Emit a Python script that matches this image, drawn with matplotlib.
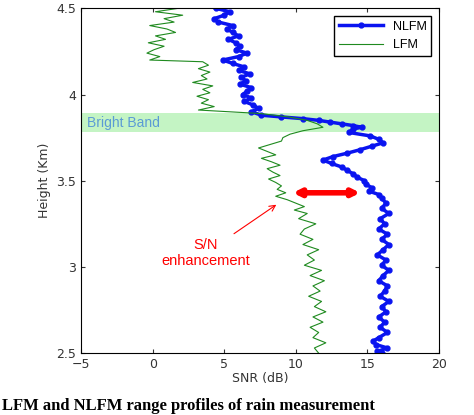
import matplotlib.pyplot as plt

# NLFM profile (height km, SNR dB)
nlfm_h = [4.50, 4.48, 4.46, 4.44, 4.42, 4.40, 4.38, 4.36, 4.34, 4.32, 4.30, 4.28, 4.26, 4.24,
          4.22, 4.20, 4.18, 4.16, 4.14, 4.12, 4.10, 4.08, 4.06, 4.04, 4.02, 4.00, 3.98, 3.96,
          3.94, 3.92, 3.90, 3.88, 3.87, 3.86, 3.85, 3.84, 3.83, 3.82, 3.81, 3.80, 3.78, 3.76,
          3.74, 3.72, 3.70, 3.68, 3.66, 3.64, 3.62, 3.60, 3.58, 3.56, 3.54, 3.52, 3.50, 3.48,
          3.46, 3.44, 3.42, 3.40, 3.37, 3.34, 3.31, 3.28, 3.25, 3.22, 3.19, 3.16, 3.13, 3.10,
          3.07, 3.04, 3.01, 2.98, 2.95, 2.92, 2.89, 2.86, 2.83, 2.80, 2.77, 2.74, 2.71, 2.68,
          2.65, 2.62, 2.59, 2.57, 2.55, 2.53, 2.51, 2.50]
nlfm_snr = [4.4, 5.4, 5.0, 4.3, 4.6, 5.6, 5.2, 5.6, 6.0, 5.3, 5.8, 6.1, 5.8, 6.6, 6.0, 4.9, 5.6,
            6.4, 6.0, 6.8, 6.2, 6.5, 6.1, 6.9, 6.6, 6.3, 6.9, 6.4, 7.0, 7.4, 6.9, 7.6, 9.0, 10.5,
            11.6, 12.4, 13.2, 14.0, 14.6, 14.0, 13.7, 15.2, 15.8, 16.1, 15.3, 14.5, 13.6, 12.6,
            11.9, 12.5, 13.2, 13.6, 14.0, 14.3, 14.8, 14.9, 15.3, 15.1, 15.8, 16.0, 16.3, 16.0,
            16.5, 15.9, 16.2, 15.8, 16.4, 16.0, 16.5, 16.1, 15.7, 16.3, 16.0, 16.5, 16.1, 15.8,
            16.4, 16.2, 15.9, 16.5, 16.0, 16.3, 15.8, 16.2, 15.9, 16.4, 15.8, 15.4, 15.6, 16.4,
            15.7, 16.0]

# LFM profile
lfm_h = [4.50, 4.48, 4.46, 4.44, 4.42, 4.40, 4.38, 4.36, 4.34, 4.32, 4.30, 4.28, 4.26, 4.24,
         4.22, 4.20, 4.19, 4.17, 4.15, 4.13, 4.11, 4.09, 4.07, 4.05, 4.03, 4.01, 3.99, 3.97,
         3.95, 3.93, 3.91, 3.89, 3.87, 3.85, 3.83, 3.81, 3.79, 3.77, 3.75, 3.73, 3.71, 3.69,
         3.67, 3.65, 3.63, 3.61, 3.59, 3.57, 3.55, 3.53, 3.51, 3.49, 3.47, 3.45, 3.43, 3.41,
         3.39, 3.37, 3.35, 3.33, 3.31, 3.28, 3.25, 3.22, 3.19, 3.16, 3.13, 3.10, 3.07, 3.04,
         3.01, 2.98, 2.95, 2.92, 2.89, 2.86, 2.83, 2.80, 2.77, 2.74, 2.71, 2.68, 2.65, 2.62,
         2.59, 2.56, 2.53, 2.50]
lfm_snr = [1.8, 0.2, 2.1, 0.8, 1.5, -0.2, 1.0, 1.6, 0.2, 0.9, -0.3, 0.8, 0.1, -0.4, 0.5, -0.2,
           3.5, 3.9, 3.2, 4.0, 3.4, 3.8, 2.8, 4.2, 3.5, 4.0, 3.1, 3.9, 3.4, 4.3, 3.2, 7.5, 9.5,
           10.8, 11.5, 11.9, 10.5, 9.6, 9.1, 9.0, 8.2, 7.4, 8.0, 8.6, 7.6, 8.3, 8.9, 8.0, 8.4,
           8.9, 8.1, 8.6, 9.0, 8.7, 9.3, 8.6, 9.4, 10.0, 10.6, 9.9, 10.8, 10.2, 11.4, 10.6, 10.3,
           11.2, 10.5, 11.6, 10.8, 11.3, 10.6, 11.8, 11.0, 12.0, 11.2, 11.7, 10.9, 11.8, 11.3,
           12.1, 11.2, 11.9, 11.0, 11.6, 11.2, 12.1, 11.3, 11.6]

x_ticks = [-5, 0, 5, 10, 15, 20]
y_ticks = [2.5, 3, 3.5, 4, 4.5]

fig = plt.figure(figsize=(4.74, 4.15), dpi=100)
ax = fig.add_axes([0.171, 0.149, 0.755, 0.831])
plt.rcParams['font.family'] = ['Liberation Sans', 'DejaVu Sans']

ax.plot(nlfm_snr, nlfm_h, color='#0a14f0', linewidth=2.5, marker='.', markersize=7, label='NLFM')
ax.plot(lfm_snr, lfm_h, color='#1f8a1f', linewidth=0.8, label='LFM')

# bright band
ax.axhspan(3.78, 3.89, color='#7ee87e', alpha=0.45, linewidth=0)
ax.text(-4.6, 3.835, 'Bright Band', color='#5b9bd5', fontsize=10, va='center')

# S/N enhancement arrow
ax.annotate('', xy=(9.6, 3.43), xytext=(14.7, 3.43),
            arrowprops=dict(arrowstyle='<|-|>', color='red', lw=4, mutation_scale=10))
ax.annotate('S/N\nenhancement', xy=(8.8, 3.37), xytext=(3.7, 3.08),
            color='red', fontsize=10.5, ha='center', va='center',
            arrowprops=dict(arrowstyle='->', color='red', lw=0.8))

ax.set_xlim(-5, 20)
ax.set_ylim(2.5, 4.5)
ax.set_xticks(x_ticks)
ax.set_yticks(y_ticks)
ax.set_yticklabels(['2.5', '3', '3.5', '4', '4.5'])
ax.tick_params(direction='in', labelsize=9, colors='#333333', length=3, top=True, right=True)
ax.set_xlabel('SNR (dB)', fontsize=9, color='#333333', labelpad=1)
ax.set_ylabel('Height (Km)', fontsize=9, color='#333333', labelpad=4)
ax.legend(loc='upper right', fontsize=9, fancybox=False, edgecolor='black', framealpha=1,
          handlelength=3.5, borderaxespad=0.6)

fig.text(0.005, 0.003, 'LFM and NLFM range profiles of rain measurement', fontsize=12,
         fontweight='bold', family='Liberation Serif', va='bottom')

fig.savefig('out.png', dpi=100)
